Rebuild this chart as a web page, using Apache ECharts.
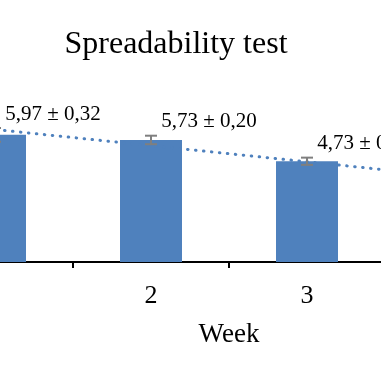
<!DOCTYPE html>
<html>
<head>
<meta charset="utf-8">
<script src="https://cdn.jsdelivr.net/npm/echarts@6/dist/echarts.min.js"></script>
<style>
html,body{margin:0;padding:0;background:#fff;}
#chart{width:381px;height:381px;}
</style>
</head>
<body>
<div id="chart"></div>
<script>
// data (week 4 lies outside the crop, estimated from the trend)
var weeks = ['1', '2', '3', '4'];
var spread = [5.97, 5.73, 4.73, 3.80];
var spreadErr = [0.32, 0.20, 0.17, 0.20];
var labels = ['5,97 ± 0,32', '5,73 ± 0,20', '4,73 ± 0,17', '3,80 ± 0,20'];
// dotted trend line, ends
var trendX = [0.5, 4.5];
var trendY = [6.60, 3.57];

var chart = echarts.init(document.getElementById('chart'));
var serif = '"Liberation Serif", "DejaVu Serif", serif';

var option = {
    animation: false,
    title: {
        text: 'Spreadability test',
        left: 171,
        top: 24,
        textAlign: 'center',
        textStyle: {fontFamily: serif, fontWeight: 'normal', fontSize: 32, color: '#000'}
    },
    grid: {left: -83, top: 91.6, width: 624, height: 170.4, outerBoundsMode: 'none', containLabel: false},
    xAxis: [
        {
            type: 'category',
            data: weeks,
            name: 'Week',
            nameLocation: 'middle',
            nameGap: 59,
            nameTextStyle: {fontFamily: serif, fontSize: 27, color: '#000'},
            axisLine: {lineStyle: {color: '#000', width: 2}},
            axisTick: {show: true, length: 6, lineStyle: {color: '#000', width: 2}},
            axisLabel: {fontFamily: serif, fontSize: 26, color: '#000', margin: 21}
        },
        {
            type: 'value', min: 0.5, max: 4.5, show: false
        }
    ],
    yAxis: {
        type: 'value', min: 0, max: 8, show: false, splitLine: {show: false}
    },
    series: [
        {
            type: 'bar',
            data: spread,
            barWidth: 62,
            itemStyle: {color: '#4F81BD'}
        },
        {
            type: 'line',
            xAxisIndex: 1,
            data: trendX.map(function (x, i) { return [x, trendY[i]]; }),
            symbol: 'none',
            z: 5,
            lineStyle: {color: '#4F81BD', width: 3, type: [0.5, 7.5], cap: 'round'}
        },
        {
            type: 'custom',
            data: spread.map(function (v, i) { return [i, v, spreadErr[i]]; }),
            z: 10,
            renderItem: function (params, api) {
                var i = api.value(0);
                var v = api.value(1);
                var e = api.value(2);
                var hi = api.coord([i, v + e]);
                var lo = api.coord([i, v - e]);
                var st = {stroke: '#7f7f7f', lineWidth: 2};
                return {
                    type: 'group',
                    children: [
                        {type: 'line', shape: {x1: hi[0], y1: hi[1], x2: lo[0], y2: lo[1]}, style: st},
                        {type: 'line', shape: {x1: hi[0] - 6, y1: hi[1], x2: hi[0] + 6, y2: hi[1]}, style: st},
                        {type: 'line', shape: {x1: lo[0] - 6, y1: lo[1], x2: lo[0] + 6, y2: lo[1]}, style: st},
                        {
                            type: 'text',
                            x: hi[0] + 58,
                            y: hi[1] - 14,
                            style: {
                                text: labels[params.dataIndex],
                                fontFamily: serif,
                                fontSize: 21,
                                fill: '#000',
                                align: 'center',
                                verticalAlign: 'middle'
                            }
                        }
                    ]
                };
            }
        }
    ]
};
chart.setOption(option);
</script>
</body>
</html>
